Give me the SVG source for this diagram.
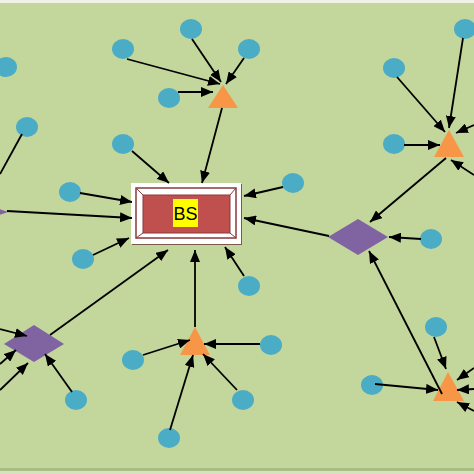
<svg xmlns="http://www.w3.org/2000/svg" width="474" height="474" viewBox="0 0 474 474">
<defs>
<style>
.c{fill:#4bacc6}
.t{fill:#f79646}
.d{fill:#8064a2}
.e{stroke:#000;stroke-width:1.8;fill:none;marker-end:url(#ah)}
.n{stroke:#000;stroke-width:1.8;fill:none}
</style>
<marker id="ah" markerUnits="userSpaceOnUse" markerWidth="12" markerHeight="10" refX="12" refY="5" orient="auto">
<path d="M0,0 L12,5 L0,10 z" fill="#000"/>
</marker>
</defs>
<rect x="0" y="0" width="474" height="474" fill="#c3d69b"/>
<rect x="0" y="0" width="474" height="3" fill="#eef2e6"/>
<rect x="0" y="468" width="474" height="3" fill="#a8bd85"/>
<rect x="0" y="471" width="474" height="3" fill="#d6e2bd"/>

<g id="bs">
<rect x="132" y="184" width="110" height="61" fill="#7a5a4a"/>
<rect x="131" y="183" width="110" height="61" fill="#ffffff"/>
<rect x="136" y="188" width="100" height="50" fill="none" stroke="#8b3a3a" stroke-width="1.5"/>
<line x1="136" y1="188" x2="143" y2="195" stroke="#8b3a3a" stroke-width="1"/>
<line x1="236" y1="188" x2="230" y2="195" stroke="#8b3a3a" stroke-width="1"/>
<line x1="136" y1="238" x2="143" y2="233" stroke="#8b3a3a" stroke-width="1"/>
<line x1="236" y1="238" x2="230" y2="233" stroke="#8b3a3a" stroke-width="1"/>
<rect x="143" y="195" width="87" height="38" fill="#c0504d" stroke="#8b3a3a" stroke-width="1"/>
<rect x="173" y="199" width="25" height="28" fill="#ffff00"/>
<text x="185.5" y="220" font-family="Liberation Sans, Arial, sans-serif" font-size="18" text-anchor="middle" fill="#000">BS</text>
</g>

<g id="triangles">
<polygon id="t1" class="t" points="223,85 208,108 238,108"/>
<polygon id="t2" class="t" points="449,130 434,157 464,157"/>
<polygon id="t3" class="t" points="195,327 180,355 210,355"/>
<polygon id="t4" class="t" points="448,372 433,401 464,401"/>
</g>

<g id="diamonds">
<polygon id="d1" class="d" points="358,219 388,237 358,255 328,237"/>
<polygon id="d2" class="d" points="34,325 64,344 34,362 4,344"/>
<polygon id="d3" class="d" points="-22,202 8,212 -22,222 -52,212"/>
</g>

<g id="sensors">
<ellipse id="s1" class="c" cx="6" cy="67" rx="11" ry="10"/>
<ellipse id="s2" class="c" cx="123" cy="49" rx="11" ry="10"/>
<ellipse id="s3" class="c" cx="191" cy="29" rx="11" ry="10"/>
<ellipse id="s4" class="c" cx="249" cy="49" rx="11" ry="10"/>
<ellipse id="s5" class="c" cx="169" cy="98" rx="11" ry="10"/>
<ellipse id="s6" class="c" cx="27" cy="127" rx="11" ry="10"/>
<ellipse id="s7" class="c" cx="123" cy="144" rx="11" ry="10"/>
<ellipse id="s8" class="c" cx="70" cy="192" rx="11" ry="10"/>
<ellipse id="s9" class="c" cx="293" cy="183" rx="11" ry="10"/>
<ellipse id="s10" class="c" cx="394" cy="68" rx="11" ry="10"/>
<ellipse id="s11" class="c" cx="465" cy="29" rx="11" ry="10"/>
<ellipse id="s12" class="c" cx="394" cy="144" rx="11" ry="10"/>
<ellipse id="s13" class="c" cx="431" cy="239" rx="11" ry="10"/>
<ellipse id="s14" class="c" cx="83" cy="259" rx="11" ry="10"/>
<ellipse id="s15" class="c" cx="249" cy="286" rx="11" ry="10"/>
<ellipse id="s16" class="c" cx="271" cy="345" rx="11" ry="10"/>
<ellipse id="s17" class="c" cx="243" cy="400" rx="11" ry="10"/>
<ellipse id="s18" class="c" cx="133" cy="360" rx="11" ry="10"/>
<ellipse id="s19" class="c" cx="76" cy="400" rx="11" ry="10"/>
<ellipse id="s20" class="c" cx="169" cy="438" rx="11" ry="10"/>
<ellipse id="s21" class="c" cx="436" cy="327" rx="11" ry="10"/>
<ellipse id="s22" class="c" cx="372" cy="385" rx="11" ry="10"/>
</g>

<g id="connectors">
<line class="e" x1="127" y1="59" x2="220" y2="84"/>
<line class="e" x1="192" y1="39" x2="221" y2="82"/>
<line class="e" x1="244" y1="58" x2="226" y2="84"/>
<line class="e" x1="178" y1="92" x2="213" y2="92"/>
<line class="e" x1="222" y1="108" x2="202" y2="183"/>
<line class="n" x1="22" y1="134" x2="0" y2="174"/>
<line class="e" x1="132" y1="151" x2="169" y2="183"/>
<line class="e" x1="80" y1="193" x2="132" y2="202"/>
<line class="e" x1="7" y1="211" x2="132" y2="218"/>
<line class="e" x1="283" y1="187" x2="244" y2="196"/>
<line class="e" x1="329" y1="236" x2="244" y2="218"/>
<line class="e" x1="446" y1="158" x2="370" y2="222"/>
<line class="e" x1="421" y1="239" x2="389" y2="237"/>
<line class="e" x1="397" y1="77" x2="445" y2="132"/>
<line class="e" x1="463" y1="38" x2="449" y2="128"/>
<line class="e" x1="404" y1="145" x2="440" y2="145"/>
<line class="e" x1="474" y1="125" x2="456" y2="133"/>
<line class="e" x1="474" y1="175" x2="451" y2="160"/>
<line class="e" x1="442" y1="394" x2="369" y2="251"/>
<line class="e" x1="434" y1="337" x2="446" y2="369"/>
<line class="e" x1="375" y1="384" x2="438" y2="390"/>
<line class="e" x1="474" y1="368" x2="457" y2="380"/>
<line class="e" x1="474" y1="389" x2="457" y2="390"/>
<line class="e" x1="474" y1="411" x2="457" y2="402"/>
<line class="e" x1="93" y1="255" x2="129" y2="238"/>
<line class="e" x1="50" y1="335" x2="168" y2="250"/>
<line class="e" x1="195" y1="327" x2="195" y2="250"/>
<line class="e" x1="244" y1="276" x2="225" y2="247"/>
<line class="e" x1="260" y1="344" x2="204" y2="344"/>
<line class="e" x1="237" y1="390" x2="203" y2="354"/>
<line class="e" x1="143" y1="355" x2="190" y2="340"/>
<line class="e" x1="170" y1="430" x2="193" y2="355"/>
<line class="e" x1="72" y1="392" x2="45" y2="354"/>
<line class="e" x1="0" y1="329" x2="27" y2="336"/>
<line class="e" x1="0" y1="364" x2="16" y2="350"/>
<line class="e" x1="0" y1="390" x2="28" y2="363"/>
</g>
</svg>
